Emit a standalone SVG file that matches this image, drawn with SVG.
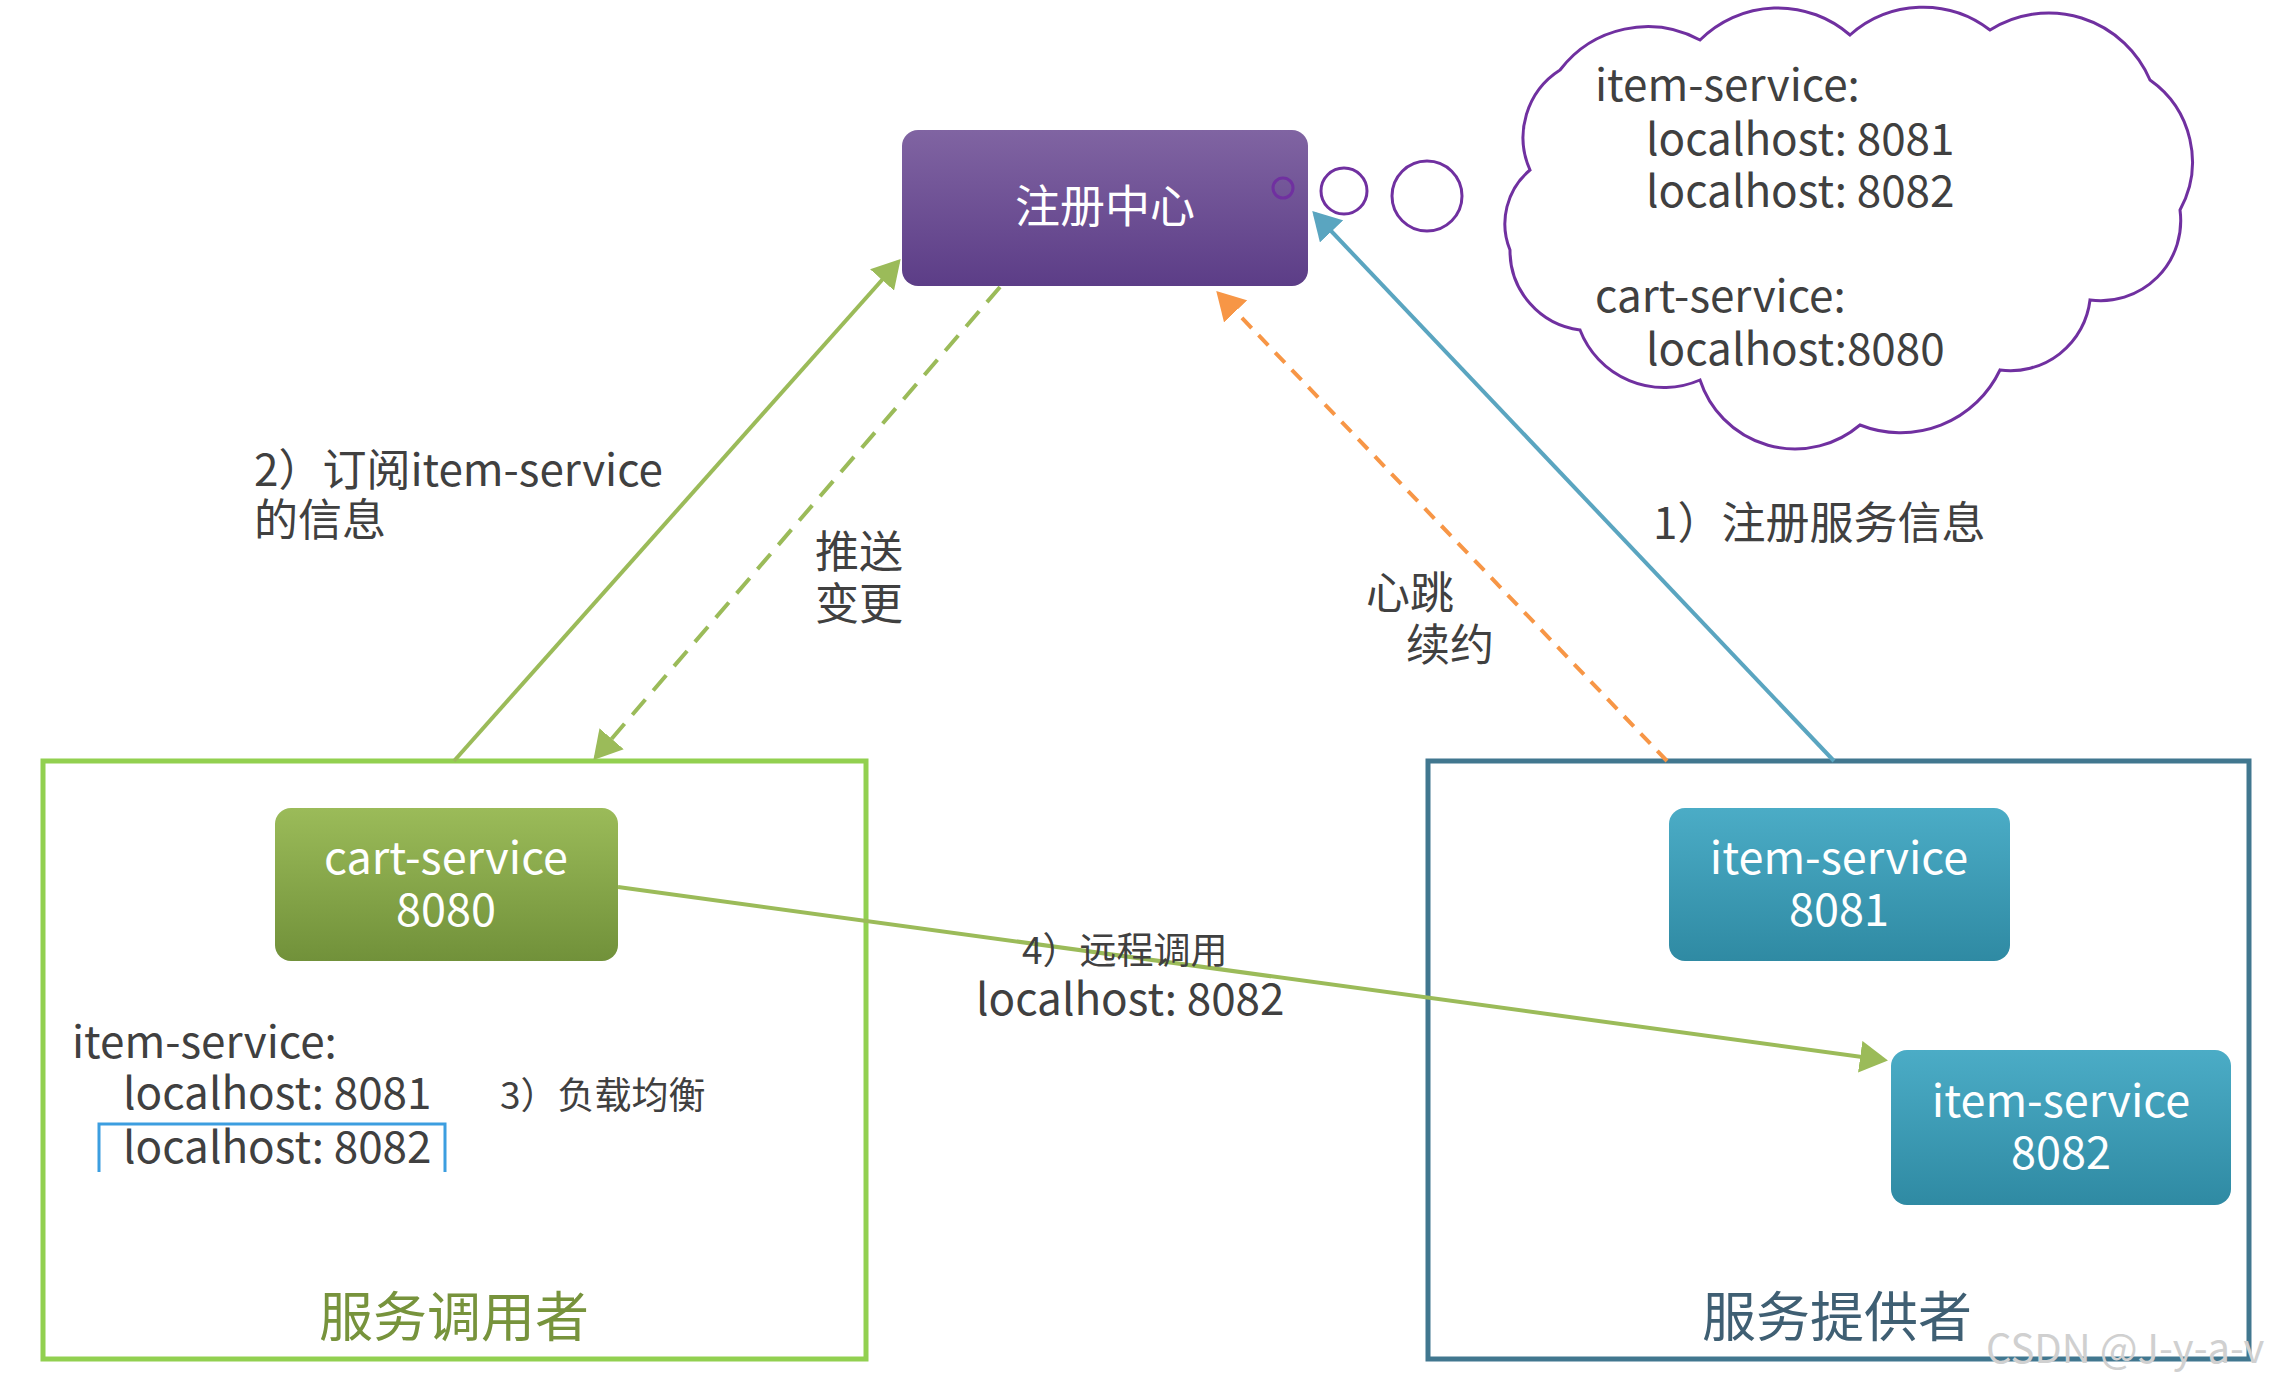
<svg xmlns="http://www.w3.org/2000/svg" width="2273" height="1387" viewBox="0 0 2273 1387">
<defs>
<linearGradient id="gp" x1="0" y1="0" x2="0" y2="1"><stop offset="0" stop-color="#8064a2"/><stop offset="1" stop-color="#5c3d87"/></linearGradient>
<linearGradient id="gg" x1="0" y1="0" x2="0" y2="1"><stop offset="0" stop-color="#9bbb59"/><stop offset="1" stop-color="#71913a"/></linearGradient>
<linearGradient id="gb" x1="0" y1="0" x2="0" y2="1"><stop offset="0" stop-color="#4bacc6"/><stop offset="1" stop-color="#2f8aa3"/></linearGradient>
<marker id="ag" markerWidth="8" markerHeight="8" refX="6" refY="4" orient="auto" markerUnits="strokeWidth"><path d="M0,0 L7,4 L0,8 Z" fill="#9bbb59"/></marker>
<marker id="ao" markerWidth="8" markerHeight="8" refX="6" refY="4" orient="auto" markerUnits="strokeWidth"><path d="M0,0 L7,4 L0,8 Z" fill="#f79646"/></marker>
<marker id="ab" markerWidth="8" markerHeight="8" refX="6" refY="4" orient="auto" markerUnits="strokeWidth"><path d="M0,0 L7,4 L0,8 Z" fill="#5aa5c0"/></marker>
</defs>
<style>
text{font-family:"Noto Sans CJK SC","Noto Sans",sans-serif;}
.w{fill:#fff;font-size:45px;text-anchor:middle}
.t{fill:#404040;font-size:44px}
.s{fill:#404040;font-size:37px}
</style>
<rect width="2273" height="1387" fill="#fff"/>
<g id="consumer-box"><rect x="43" y="761" width="823" height="598" fill="none" stroke="#92d050" stroke-width="5"/>
<text x="454" y="1337" font-size="54" fill="#77933c" text-anchor="middle">服务调用者</text></g>
<g id="provider-box"><rect x="1428" y="761" width="821" height="598" fill="none" stroke="#41778f" stroke-width="5"/>
<text x="1837" y="1337" font-size="54" fill="#3f5f73" text-anchor="middle">服务提供者</text></g>
<g id="registry"><rect x="902" y="130" width="406" height="156" rx="16" fill="url(#gp)"/>
<text class="w" x="1105" y="223">注册中心</text>
<circle cx="1283" cy="188" r="10" fill="none" stroke="#7030a0" stroke-width="3"/>
<circle cx="1344" cy="191" r="23" fill="#fff" stroke="#7030a0" stroke-width="3"/>
<circle cx="1427" cy="196" r="35" fill="#fff" stroke="#7030a0" stroke-width="3"/></g>
<g id="cloud">
<path d="M1530,170 A80,80 0 0 1 1560,70 A110,110 0 0 1 1700,40 A110,110 0 0 1 1850,35 A110,110 0 0 1 1990,30 A110,110 0 0 1 2150,80 A100,100 0 0 1 2180,210 A80,80 0 0 1 2090,300 A80,80 0 0 1 2000,370 A110,110 0 0 1 1860,425 A100,100 0 0 1 1700,380 A90,90 0 0 1 1580,330 A80,80 0 0 1 1510,250 A70,70 0 0 1 1530,170 Z" fill="#fff" stroke="#7030a0" stroke-width="3"/>
<text class="t" x="1595" y="101">item-service:</text>
<text class="t" x="1646" y="155">localhost: 8081</text>
<text class="t" x="1646" y="207">localhost: 8082</text>
<text class="t" x="1595" y="312">cart-service:</text>
<text class="t" x="1646" y="365">localhost:8080</text></g>
<g id="cart"><rect x="275" y="808" width="343" height="153" rx="16" fill="url(#gg)"/>
<text class="w" x="446" y="874">cart-service</text><text class="w" x="446" y="926">8080</text></g>
<g id="item8081"><rect x="1669" y="808" width="341" height="153" rx="16" fill="url(#gb)"/>
<text class="w" x="1839" y="874">item-service</text><text class="w" x="1839" y="926">8081</text></g>
<g id="item8082"><rect x="1891" y="1050" width="340" height="155" rx="16" fill="url(#gb)"/>
<text class="w" x="2061" y="1117">item-service</text><text class="w" x="2061" y="1169">8082</text></g>
<g id="local-list">
<text class="t" x="72" y="1058">item-service:</text>
<text class="t" x="123" y="1109">localhost: 8081</text>
<text class="t" x="123" y="1163">localhost: 8082</text>
<path d="M99,1172 V1124 H445 V1172" fill="none" stroke="#3c9ee0" stroke-width="3"/>
<text class="s" x="500" y="1109">3）负载均衡</text></g>
<g id="connectors" fill="none" stroke-width="4">
<line x1="454" y1="761" x2="898" y2="262" stroke="#9bbb59" marker-end="url(#ag)"/>
<line x1="1000" y1="287" x2="596" y2="757" stroke="#9bbb59" stroke-dasharray="20,12" marker-end="url(#ag)"/>
<line x1="1667" y1="761" x2="1219" y2="294" stroke="#f79646" stroke-dasharray="14,10" marker-end="url(#ao)"/>
<line x1="1834" y1="761" x2="1315" y2="214" stroke="#5aa5c0" marker-end="url(#ab)"/>
<line x1="618" y1="887" x2="1884" y2="1060" stroke="#9bbb59" marker-end="url(#ag)"/>
</g>
<g id="labels">
<text class="t" x="254" y="486">2）订阅item-service</text>
<text class="t" x="254" y="536">的信息</text>
<text class="t" x="815" y="568">推送</text><text class="t" x="815" y="620">变更</text>
<text class="t" x="1366" y="609">心跳</text><text class="t" x="1406" y="661">续约</text>
<text class="t" x="1653" y="539">1）注册服务信息</text>
<text class="s" x="1022" y="964">4）远程调用</text>
<text class="t" x="976" y="1015">localhost: 8082</text>
<text x="1986" y="1363" font-size="40" fill="#d0d0d0">CSDN @J-y-a-v</text>
</g>
</svg>
